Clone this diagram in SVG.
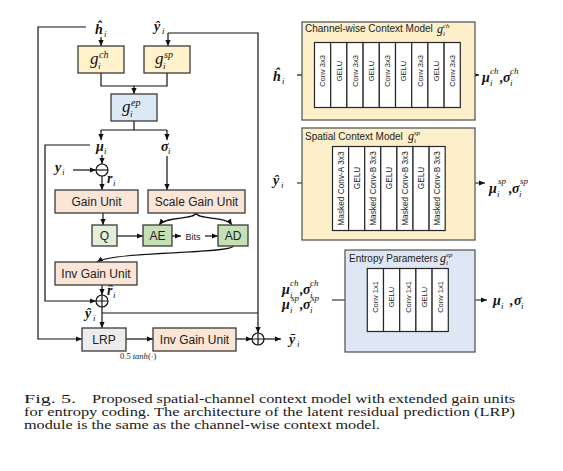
<svg xmlns="http://www.w3.org/2000/svg" width="563" height="471" viewBox="0 0 563 471">
<defs>
<marker id="a" markerWidth="6" markerHeight="6" refX="6" refY="3" orient="auto" markerUnits="userSpaceOnUse"><path d="M0,0.4 L6,3 L0,5.6 z" fill="#111"/></marker>
<style>
.ln{fill:none;stroke:#111;stroke-width:1.2}
.ar{marker-end:url(#a)}
.bx{stroke:#3a3a3a;stroke-width:1.3}
.yel{fill:#fff2cc}
.blu{fill:#dce8f5}
.pch{fill:#fbe5d6}
.gl{fill:#e2f0d9}
.gd{fill:#c5e0b4}
.gr{fill:#ececec}
.sans{font-family:"Liberation Sans",Arial,sans-serif;fill:#222}
.lb{font-family:"Liberation Sans",Arial,sans-serif;font-size:12px;fill:#222;text-anchor:middle}
.m{font-family:"Liberation Serif","Times New Roman",serif;font-weight:bold;font-style:italic;font-size:14px;fill:#111}
.s{font-family:"Liberation Serif","Times New Roman",serif;font-style:italic;font-size:9px;fill:#111}
.g{font-family:"Liberation Serif","Times New Roman",serif;font-style:italic;font-size:17px;fill:#111}
.ol{stroke:#5a5a5a;stroke-width:1.3}
.col{fill:#fff;stroke:#262626;stroke-width:1.2}
.ct{font-family:"Liberation Sans",Arial,sans-serif;font-size:7.5px;fill:#222;text-anchor:middle}
.st{font-family:"Liberation Sans",Arial,sans-serif;font-size:8.3px;fill:#222;text-anchor:middle}
.tt{font-family:"Liberation Sans",Arial,sans-serif;font-size:10px;fill:#222}
.cap{font-family:"Liberation Serif","Times New Roman",serif;font-size:12.5px;fill:#1a1a1a}
</style>
</defs>
<rect width="563" height="471" fill="#fff"/>

<g id="connectors">
<path class="ln ar" d="M86,27 H38 V339 H82"/>
<path class="ln ar" d="M101,37 V46"/>
<path class="ln ar" d="M168,33 H258 V333"/>
<path class="ln ar" d="M168,33 V46"/>
<path class="ln" d="M101,73 V86 H167 V73"/>
<path class="ln ar" d="M134,86 V94"/>
<path class="ln" d="M134,121 V130 M101,130 H167"/>
<path class="ln ar" d="M101,130 V140"/>
<path class="ln ar" d="M167,130 V140"/>
<path class="ln ar" d="M90,145 H45 V301 H96"/>
<path class="ln ar" d="M102,155 V164"/>
<path class="ln ar" d="M73,170 H96"/>
<path class="ln ar" d="M102,176 V190"/>
<path class="ln ar" d="M167,156 V190"/>
<path class="ln ar" d="M103,213 V225"/>
<path class="ln ar" d="M117,236 H143"/>
<path class="ln ar" d="M172,236 H181"/>
<path class="ln ar" d="M205,236 H218"/>
<path class="ln ar" d="M196,213 C194,220 166,216 159,225"/>
<path class="ln ar" d="M196,213 C198,220 226,216 232,225"/>
<path class="ln ar" d="M233,246 C233,254 115,251 97,262"/>
<path class="ln ar" d="M102,285 V295"/>
<path class="ln ar" d="M102,307 V328"/>
<path class="ln" d="M102,313 H258"/>
<path class="ln ar" d="M126,339 H153"/>
<path class="ln ar" d="M236,339 H252"/>
<path class="ln ar" d="M264,339 H281"/>
<path class="ln ar" d="M297,75 H314"/>
<path class="ln ar" d="M460,75 H479"/>
<path class="ln ar" d="M297,183 H332"/>
<path class="ln ar" d="M445,183 H485"/>
<path class="ln ar" d="M332,300 H367"/>
<path class="ln ar" d="M448,300 H487"/>
<circle class="ln" cx="102" cy="170" r="6"/><path class="ln" d="M96,170 H108"/>
<circle class="ln" cx="102" cy="301" r="6"/><path class="ln" d="M96,301 H108 M102,295 V307"/>
<circle class="ln" cx="258" cy="339" r="6"/><path class="ln" d="M252,339 H264 M258,333 V345"/>
</g>

<g id="labels">
<text class="m" x="95" y="34">ĥ</text><text class="s" x="104" y="37">i</text>
<text class="m" x="154" y="31">ŷ</text><text class="s" x="162" y="34">i</text>
<text class="m" x="96" y="151">μ</text><text class="s" x="104" y="154">i</text>
<text class="m" x="161" y="151">σ</text><text class="s" x="168" y="154">i</text>
<text class="m" x="55" y="172">y</text><text class="s" x="62" y="175">i</text>
<text class="m" x="107" y="183">r</text><text class="s" x="113" y="186">i</text>
<text class="m" x="107" y="295">r̂</text><text class="s" x="113" y="298">i</text>
<text class="m" x="85" y="318">ŷ</text><text class="s" x="93" y="321">i</text>
<text class="m" x="289" y="344">ȳ</text><text class="s" x="297" y="347">i</text>
<text x="120" y="359" style="font-family:'Liberation Serif',serif;font-size:8.5px;fill:#222">0.5 <tspan font-style="italic">tanh</tspan>(·)</text>
</g>

<g id="g_ch"><rect class="bx yel" x="78" y="46" width="46" height="27"/>
<text class="g" x="90" y="64">g</text><text class="s" x="98" y="69">i</text><text class="s" x="99" y="58" style="font-size:10px">ch</text></g>
<g id="g_sp"><rect class="bx yel" x="144" y="46" width="46" height="27"/>
<text class="g" x="155" y="64">g</text><text class="s" x="163" y="69">i</text><text class="s" x="164" y="58" style="font-size:10px">sp</text></g>
<g id="g_ep"><rect class="bx blu" x="111" y="94" width="46" height="27"/>
<text class="g" x="122" y="112">g</text><text class="s" x="130" y="117">i</text><text class="s" x="131" y="106" style="font-size:10px">ep</text></g>

<g id="gain_unit"><rect class="bx pch" x="55" y="190" width="83" height="23"/><text class="lb" x="96.5" y="206">Gain Unit</text></g>
<g id="scale_gain_unit"><rect class="bx pch" x="148" y="190" width="97" height="23"/><text class="lb" x="196.5" y="206">Scale Gain Unit</text></g>
<g id="q"><rect class="bx gl" x="92" y="225" width="25" height="21"/><text class="lb" x="104.5" y="240">Q</text></g>
<g id="ae"><rect class="bx gd" x="143" y="225" width="29" height="21"/><text class="lb" x="157.5" y="240">AE</text></g>
<text class="sans" x="193" y="239.5" font-size="9" text-anchor="middle">Bits</text>
<g id="ad"><rect class="bx gd" x="218" y="225" width="30" height="21"/><text class="lb" x="233" y="240">AD</text></g>
<g id="inv_gain_unit_1"><rect class="bx pch" x="55" y="262" width="82" height="23"/><text class="lb" x="96" y="278">Inv Gain Unit</text></g>
<g id="lrp"><rect class="bx gr" x="82" y="328" width="44" height="23"/><text class="lb" x="104" y="344">LRP</text></g>
<g id="inv_gain_unit_2"><rect class="bx pch" x="153" y="328" width="83" height="23"/><text class="lb" x="194.5" y="344">Inv Gain Unit</text></g>

<g id="channel_model">
<rect class="ol" x="302" y="22" width="173" height="98" fill="#fcefca"/>
<text class="tt" x="305" y="32">Channel-wise Context Model</text>
<text class="g" x="437" y="33" style="font-size:12px">g</text><text class="s" x="443" y="36" style="font-size:7px">i</text><text class="s" x="443" y="28" style="font-size:7px">ch</text>
<rect class="col" x="314.5" y="42.5" width="16.2" height="65"/>
<rect class="col" x="330.7" y="42.5" width="16.2" height="65"/>
<rect class="col" x="346.9" y="42.5" width="16.2" height="65"/>
<rect class="col" x="363.1" y="42.5" width="16.2" height="65"/>
<rect class="col" x="379.3" y="42.5" width="16.2" height="65"/>
<rect class="col" x="395.5" y="42.5" width="16.2" height="65"/>
<rect class="col" x="411.7" y="42.5" width="16.2" height="65"/>
<rect class="col" x="427.9" y="42.5" width="16.2" height="65"/>
<rect class="col" x="444.1" y="42.5" width="16.2" height="65"/>
<text class="ct" transform="translate(325.3,71) rotate(-90)">Conv 3x3</text>
<text class="ct" transform="translate(341.5,71) rotate(-90)">GELU</text>
<text class="ct" transform="translate(357.7,71) rotate(-90)">Conv 3x3</text>
<text class="ct" transform="translate(373.9,71) rotate(-90)">GELU</text>
<text class="ct" transform="translate(390.1,71) rotate(-90)">Conv 3x3</text>
<text class="ct" transform="translate(406.3,71) rotate(-90)">GELU</text>
<text class="ct" transform="translate(422.5,71) rotate(-90)">Conv 3x3</text>
<text class="ct" transform="translate(438.7,71) rotate(-90)">GELU</text>
<text class="ct" transform="translate(454.9,71) rotate(-90)">Conv 3x3</text>
<text class="m" x="273" y="81">ĥ</text><text class="s" x="282" y="84">i</text>
<text class="m" x="482" y="82">μ</text><text class="s" x="490" y="86">i</text><text class="s" x="490" y="74">ch</text>
<text class="m" x="500" y="82">,</text>
<text class="m" x="503" y="82">σ</text><text class="s" x="510" y="86">i</text><text class="s" x="510" y="74">ch</text>
</g>

<g id="spatial_model">
<rect class="ol" x="302" y="128" width="173" height="112" fill="#fcefca"/>
<text class="tt" x="305" y="140">Spatial Context Model</text>
<text class="g" x="408" y="140" style="font-size:12px">g</text><text class="s" x="414" y="143" style="font-size:7px">i</text><text class="s" x="414" y="135" style="font-size:7px">sp</text>
<rect class="col" x="332.5" y="146.5" width="16.1" height="84"/>
<rect class="col" x="348.6" y="146.5" width="16.1" height="84"/>
<rect class="col" x="364.7" y="146.5" width="16.1" height="84"/>
<rect class="col" x="380.8" y="146.5" width="16.1" height="84"/>
<rect class="col" x="396.9" y="146.5" width="16.1" height="84"/>
<rect class="col" x="413" y="146.5" width="16.1" height="84"/>
<rect class="col" x="429.1" y="146.5" width="16.1" height="84"/>
<text class="st" transform="translate(343.6,188.5) rotate(-90)">Masked Conv-A 3x3</text>
<text class="st" transform="translate(359.7,178) rotate(-90)">GELU</text>
<text class="st" transform="translate(375.8,188.5) rotate(-90)">Masked Conv-B 3x3</text>
<text class="st" transform="translate(391.9,178) rotate(-90)">GELU</text>
<text class="st" transform="translate(408,188.5) rotate(-90)">Masked Conv-B 3x3</text>
<text class="st" transform="translate(424.1,178) rotate(-90)">GELU</text>
<text class="st" transform="translate(440.2,188.5) rotate(-90)">Masked Conv-B 3x3</text>
<text class="m" x="273" y="185">ŷ</text><text class="s" x="281" y="188">i</text>
<text class="m" x="489" y="193">μ</text><text class="s" x="497" y="197">i</text><text class="s" x="498" y="184">sp</text>
<text class="m" x="509" y="193">,</text>
<text class="m" x="512" y="193">σ</text><text class="s" x="519" y="197">i</text><text class="s" x="520" y="184">sp</text>
</g>

<g id="entropy_parameters">
<rect class="ol" x="345" y="250" width="130" height="102" fill="#dee7f3"/>
<text class="tt" x="349" y="262">Entropy Parameters</text>
<text class="g" x="440" y="262" style="font-size:12px">g</text><text class="s" x="446" y="265" style="font-size:7px">i</text><text class="s" x="446" y="257" style="font-size:7px">ep</text>
<rect class="col" x="367.3" y="268.5" width="16.2" height="63"/>
<rect class="col" x="383.5" y="268.5" width="16.2" height="63"/>
<rect class="col" x="399.7" y="268.5" width="16.2" height="63"/>
<rect class="col" x="415.9" y="268.5" width="16.2" height="63"/>
<rect class="col" x="432.1" y="268.5" width="16.2" height="63"/>
<text class="ct" transform="translate(378.1,297) rotate(-90)">Conv 1x1</text>
<text class="ct" transform="translate(394.3,297) rotate(-90)">GELU</text>
<text class="ct" transform="translate(410.5,297) rotate(-90)">Conv 1x1</text>
<text class="ct" transform="translate(426.7,297) rotate(-90)">GELU</text>
<text class="ct" transform="translate(442.9,297) rotate(-90)">Conv 1x1</text>
<text class="m" x="282" y="294">μ</text><text class="s" x="290" y="298">i</text><text class="s" x="290" y="286">ch</text>
<text class="m" x="300" y="294">,</text>
<text class="m" x="303" y="294">σ</text><text class="s" x="310" y="298">i</text><text class="s" x="310" y="286">ch</text>
<text class="m" x="282" y="309">μ</text><text class="s" x="290" y="313">i</text><text class="s" x="291" y="301">sp</text>
<text class="m" x="300" y="309">,</text>
<text class="m" x="303" y="309">σ</text><text class="s" x="310" y="313">i</text><text class="s" x="311" y="301">sp</text>
<text class="m" x="493" y="305">μ</text><text class="s" x="501" y="309">i</text>
<text class="m" x="510" y="305">,</text>
<text class="m" x="514" y="305">σ</text><text class="s" x="521" y="309">i</text>
</g>

<g id="caption">
<text class="cap" x="24" y="402.5" textLength="52" lengthAdjust="spacingAndGlyphs">Fig. 5.</text>
<text class="cap" x="92" y="402.5" textLength="423" lengthAdjust="spacingAndGlyphs">Proposed spatial-channel context model with extended gain units</text>
<text class="cap" x="24" y="415.5" textLength="491" lengthAdjust="spacingAndGlyphs">for entropy coding. The architecture of the latent residual prediction (LRP)</text>
<text class="cap" x="24" y="428.5" textLength="356" lengthAdjust="spacingAndGlyphs">module is the same as the channel-wise context model.</text>
</g>
</svg>
